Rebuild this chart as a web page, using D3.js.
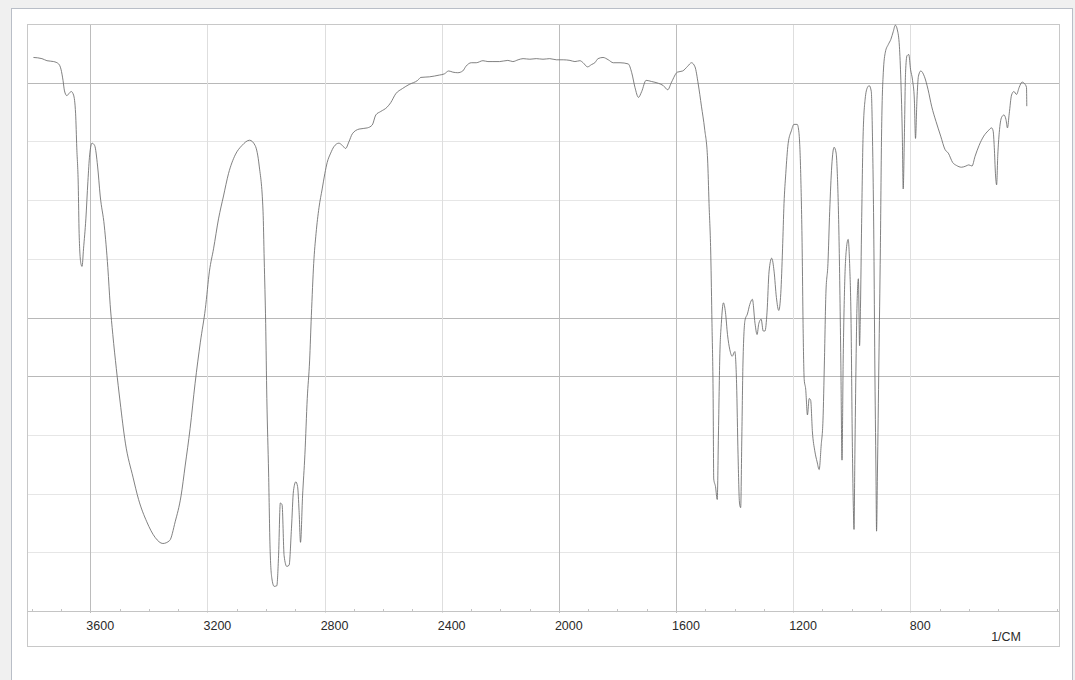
<!DOCTYPE html>
<html>
<head>
<meta charset="utf-8">
<script src="https://cdn.jsdelivr.net/npm/d3@7"></script>
<style>
  html, body { margin: 0; padding: 0; background: #f0f0f0; }
  svg { display: block; }
</style>
</head>
<body>
<div id="chart"></div>
<script>
// IR spectrum, wavenumber (1/CM) vs transmittance (%)
const wavenumbers = [
  3794, 3765, 3748, 3725, 3708, 3700, 3693, 3688, 3680, 3672, 3665, 3657, 3650, 3646, 3641, 3638,
  3632, 3628, 3623, 3615, 3608, 3602, 3594, 3585, 3575, 3566, 3552, 3540, 3532, 3523, 3511, 3498,
  3480, 3454, 3435, 3407, 3378, 3352, 3329, 3310, 3290, 3276, 3259, 3242, 3224, 3207, 3193, 3179,
  3162, 3145, 3128, 3105, 3082, 3056, 3037, 3023, 3010, 3006, 3001, 2997, 2991, 2986, 2980, 2972,
  2963, 2957, 2951, 2945, 2938, 2929, 2921, 2913, 2906, 2898, 2892, 2887, 2882, 2875, 2867, 2859,
  2851, 2845, 2837, 2829, 2819, 2808, 2799, 2791, 2779, 2768, 2751, 2739, 2728, 2717, 2705, 2682,
  2654, 2637, 2625, 2608, 2587, 2574, 2557, 2534, 2511, 2482, 2471, 2442, 2408, 2391, 2376, 2362,
  2345, 2328, 2317, 2299, 2282, 2259, 2242, 2225, 2202, 2174, 2157, 2139, 2122, 2099, 2077, 2054,
  2031, 2008, 1985, 1962, 1945, 1928, 1917, 1902, 1888, 1877, 1866, 1849, 1831, 1814, 1791, 1763,
  1751, 1740, 1728, 1717, 1702, 1683, 1660, 1643, 1628, 1615, 1595, 1577, 1560, 1547, 1535, 1524,
  1513, 1502, 1492, 1487, 1481, 1477, 1473, 1471, 1465, 1459, 1455, 1450, 1445, 1438, 1431, 1424,
  1416, 1408, 1399, 1393, 1388, 1383, 1379, 1375, 1371, 1364, 1356, 1348, 1339, 1330, 1323, 1317,
  1309, 1302, 1296, 1289, 1282, 1273, 1265, 1257, 1249, 1242, 1236, 1231, 1225, 1217, 1206, 1197,
  1186, 1180, 1174, 1169, 1166, 1162, 1157, 1151, 1145, 1140, 1134, 1126, 1118, 1111, 1104, 1098,
  1093, 1088, 1081, 1075, 1068, 1060, 1053, 1049, 1043, 1037, 1033, 1029, 1024, 1018, 1012, 1007,
  1002, 998, 994, 992, 989, 985, 982, 977, 973, 970, 966, 961, 954, 946, 940, 933,
  929, 924, 921, 917, 915, 912, 907, 902, 898, 892, 885, 875, 866, 858, 851, 844,
  837, 832, 827, 824, 820, 816, 811, 805, 799, 792, 786, 782, 777, 772, 764, 752,
  739, 727, 712, 696, 681, 670, 655, 642, 625, 610, 600, 589, 579, 565, 549, 534,
  522, 517, 513, 509, 505, 501, 496, 488, 480, 473, 468, 462, 454, 446, 437, 428,
  418, 409, 403, 402
];

const transmittance = [
  94.3, 94.1, 93.75, 93.6, 93.2, 92.3, 90.4, 88.6, 87.8, 88.2, 88.5, 87.9, 84.7, 78.9, 72.6, 64.3,
  59.2, 58.7, 61.7, 66.8, 73.2, 77.7, 79.7, 79.3, 75.8, 70.7, 65.6, 58.5, 52.2, 47.1, 41.3, 35.6,
  28.6, 22.8, 19.0, 15.2, 12.5, 11.5, 12.0, 15.2, 19.6, 24.7, 31.1, 38.8, 45.8, 51.5, 57.9, 61.7,
  66.8, 70.7, 74.5, 77.7, 79.3, 80.2, 79.3, 75.8, 68.1, 59.8, 49.0, 36.2, 23.5, 10.7, 5.6, 4.2,
  4.3, 9.4, 18.4, 18.1, 9.4, 7.6, 7.8, 14.0, 20.5, 22.0, 21.2, 17.1, 11.7, 19.6, 26.7, 36.2,
  42.6, 50.3, 59.2, 64.3, 68.7, 71.9, 74.5, 76.4, 78.0, 79.1, 79.7, 79.3, 78.8, 79.9, 81.3, 82.1,
  82.3, 82.8, 84.5, 85.1, 85.8, 86.6, 88.1, 89.0, 89.7, 90.4, 90.9, 91.0, 91.3, 91.5, 92.0, 91.8,
  91.7, 92.0, 92.8, 93.4, 93.4, 93.75, 93.6, 93.6, 93.6, 93.8, 93.6, 93.9, 94.1, 94.0, 94.1, 94.0,
  94.1, 93.9, 93.9, 93.8, 93.6, 93.75, 93.4, 92.7, 93.1, 93.4, 94.1, 94.3, 93.9, 93.4, 93.4, 93.2,
  91.7, 89.2, 87.5, 88.5, 90.4, 90.2, 89.9, 89.5, 88.8, 90.1, 91.8, 92.0, 92.8, 93.4, 92.7, 89.8,
  86.0, 82.1, 77.0, 69.4, 60.5, 49.0, 36.2, 22.5, 21.2, 19.0, 29.8, 43.9, 49.0, 52.5, 50.9, 47.1,
  44.5, 43.4, 44.2, 38.8, 26.7, 18.4, 17.6, 29.8, 42.6, 49.6, 50.6, 52.2, 53.1, 49.0, 47.1, 49.0,
  49.7, 47.7, 47.7, 50.9, 57.9, 60.1, 57.9, 53.4, 51.2, 54.1, 61.7, 69.4, 74.5, 79.6, 81.8, 82.9,
  82.9, 81.5, 74.5, 61.7, 49.0, 39.4, 37.8, 33.4, 36.2, 35.9, 30.5, 27.3, 25.4, 24.1, 28.3, 32.4,
  42.6, 54.1, 59.2, 68.1, 75.8, 79.0, 78.0, 74.5, 63.0, 42.6, 25.7, 42.6, 55.4, 61.7, 63.3, 59.2,
  49.0, 29.8, 17.1, 13.9, 26.7, 42.6, 51.5, 56.6, 45.2, 51.5, 66.0, 80.9, 87.2, 89.2, 89.5, 88.5,
  80.9, 61.7, 42.6, 23.5, 13.6, 23.5, 42.6, 61.7, 80.9, 91.7, 95.2, 96.5, 97.4, 98.7, 99.8, 99.0,
  96.2, 90.4, 80.9, 71.9, 80.9, 91.7, 94.6, 94.8, 92.3, 90.4, 87.2, 80.5, 87.2, 91.1, 92.0, 91.1,
  88.8, 86.0, 83.4, 80.9, 78.6, 78.0, 76.4, 75.9, 75.6, 75.8, 76.0, 75.8, 77.4, 79.3, 80.9, 81.8,
  82.3, 81.8, 79.0, 74.5, 72.6, 77.7, 81.5, 84.1, 84.5, 83.7, 82.3, 84.7, 87.9, 88.5, 88.0, 89.2,
  90.1, 89.8, 89.2, 86.0
];

const xTicks = [3600, 3200, 2800, 2400, 2000, 1600, 1200, 800];
const xDomain = [3816, 292];
const yTicks = [10, 20, 30, 40, 50, 60, 70, 80, 90];
const xUnitLabel = "1/CM";

// gridlines that print darker in the original chart
const darkX = [3600, 2000, 1600];
const darkY = [90, 50, 40];

const width = 1075;
const height = 680;
const plot = { left: 27, right: 1059, top: 24, bottom: 611, frameBottom: 646 };
const font = "'Liberation Sans', Arial, Helvetica, sans-serif";

const svg = d3
  .select("#chart")
  .append("svg")
  .attr("width", width)
  .attr("height", height);

// page card
svg
  .append("rect")
  .attr("x", 11.5)
  .attr("y", 8.5)
  .attr("width", 1061)
  .attr("height", 700)
  .attr("fill", "#fff")
  .attr("stroke", "#b9bec7");

const x = d3.scaleLinear().domain(xDomain).range([plot.left, plot.right]);
const y = d3.scaleLinear().domain([0, 100]).range([plot.bottom, plot.top]);

// minor ticks every 100
const minorTicks = d3
  .range(3800, 299, -100)
  .filter((d) => d % 400 !== 0 && d <= xDomain[0]);

svg
  .append("g")
  .selectAll("line")
  .data(minorTicks)
  .enter()
  .append("line")
  .attr("x1", (d) => Math.round(x(d)) + 0.5)
  .attr("x2", (d) => Math.round(x(d)) + 0.5)
  .attr("y1", plot.bottom - 2)
  .attr("y2", plot.bottom)
  .attr("stroke", "#c4c4c4");

// horizontal gridlines
svg
  .append("g")
  .selectAll("line")
  .data(yTicks)
  .enter()
  .append("line")
  .attr("x1", plot.left)
  .attr("x2", plot.right)
  .attr("y1", (d) => Math.round(y(d)) + 0.5)
  .attr("y2", (d) => Math.round(y(d)) + 0.5)
  .attr("stroke", (d) => (darkY.includes(d) ? "#b8b8b8" : "#e6e6e6"));

// vertical gridlines
svg
  .append("g")
  .selectAll("line")
  .data(xTicks)
  .enter()
  .append("line")
  .attr("x1", (d) => Math.round(x(d)) + 0.5)
  .attr("x2", (d) => Math.round(x(d)) + 0.5)
  .attr("y1", plot.top)
  .attr("y2", plot.bottom + 2)
  .attr("stroke", (d) => (darkX.includes(d) ? "#bcbcbc" : "#dedede"));

// frame and axis line
svg
  .append("rect")
  .attr("x", plot.left + 0.5)
  .attr("y", plot.top + 0.5)
  .attr("width", plot.right - plot.left)
  .attr("height", plot.frameBottom - plot.top)
  .attr("fill", "none")
  .attr("stroke", "#c8c8c8");

svg
  .append("line")
  .attr("x1", plot.left)
  .attr("x2", plot.right)
  .attr("y1", plot.bottom + 0.5)
  .attr("y2", plot.bottom + 0.5)
  .attr("stroke", "#c4c4c4");

// tick labels
svg
  .append("g")
  .selectAll("text")
  .data(xTicks)
  .enter()
  .append("text")
  .attr("x", (d) => x(d) + 10)
  .attr("y", 629.5)
  .attr("text-anchor", "middle")
  .attr("font-family", font)
  .attr("font-size", "12.5px")
  .attr("fill", "#2a2a2a")
  .text((d) => d);

svg
  .append("text")
  .attr("x", 1021)
  .attr("y", 641)
  .attr("text-anchor", "end")
  .attr("font-family", font)
  .attr("font-size", "12.5px")
  .attr("fill", "#2a2a2a")
  .text(xUnitLabel);

// spectrum trace
const points = wavenumbers.map((w, i) => ({ w, t: transmittance[i] }));

const line = d3
  .line()
  .x((d) => x(d.w))
  .y((d) => y(d.t))
  .curve(d3.curveMonotoneX);

svg
  .append("path")
  .datum(points)
  .attr("d", line)
  .attr("fill", "none")
  .attr("stroke", "#6a6a6a")
  .attr("stroke-width", 0.85)
  .attr("stroke-linejoin", "round");
</script>
</body>
</html>
